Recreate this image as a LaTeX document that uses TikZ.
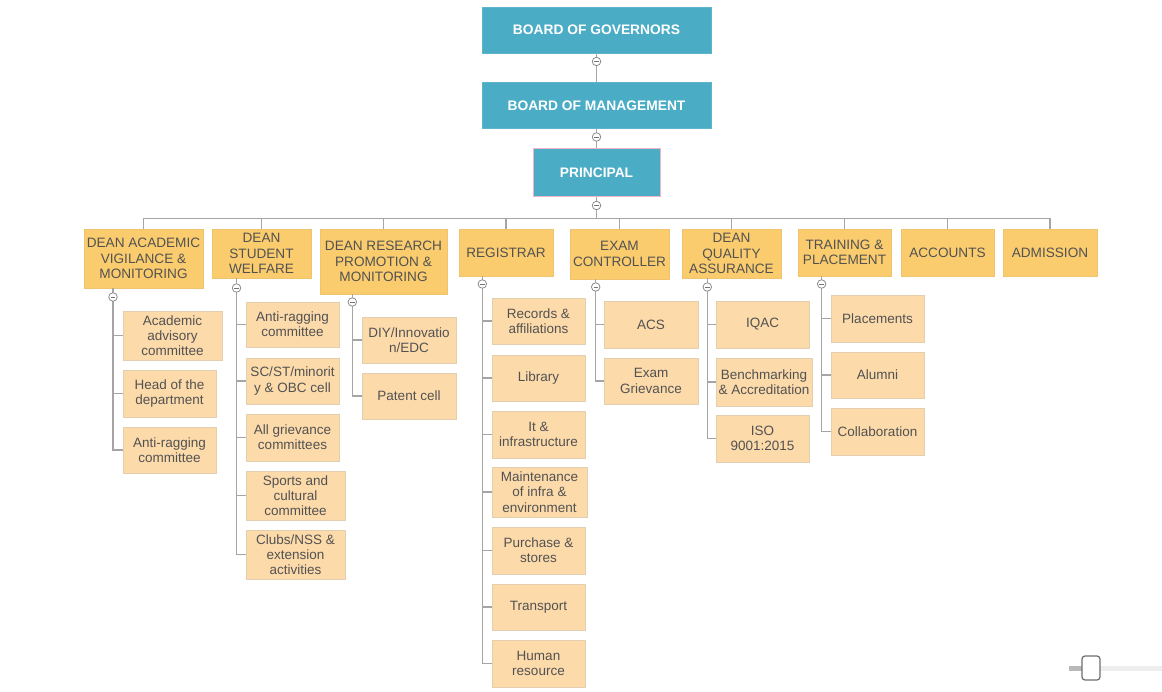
\documentclass[tikz,border=0pt]{standalone}
\usepackage{fontspec}
\setmainfont{Liberation Sans}
\usetikzlibrary{shadows}
\definecolor{topblue}{RGB}{75,172,198}
\definecolor{deanor}{RGB}{250,204,110}
\definecolor{childor}{RGB}{252,218,170}
\definecolor{childbd}{RGB}{228,206,176}
\definecolor{deanbd}{RGB}{240,196,110}
\definecolor{txt}{RGB}{82,82,82}
\definecolor{conn}{RGB}{165,165,165}
\definecolor{pinkbd}{RGB}{240,180,200}
\begin{document}
\begin{tikzpicture}[x=1pt,y=-1pt,
  topbox/.style={draw=topblue!90!white, fill=topblue, text=white, inner sep=2pt,
     font=\fontsize{13.8}{15.3}\selectfont\bfseries, align=center,
     drop shadow={shadow xshift=1pt, shadow yshift=-1pt, opacity=0.15}},
  deanbox/.style={draw=deanbd, fill=deanor, text=txt, inner sep=1pt,
     font=\fontsize{13.6}{15.3}\selectfont, align=center,
     drop shadow={shadow xshift=1pt, shadow yshift=-1pt, opacity=0.15}},
  childbox/.style={draw=childbd, fill=childor, text=txt, inner sep=1pt,
     font=\fontsize{13.5}{15.3}\selectfont, align=center,
     drop shadow={shadow xshift=0.8pt, shadow yshift=-0.8pt, opacity=0.12}},
  wire/.style={draw=conn, line width=1.3pt},
  knob/.style={circle, draw=conn!85!black, fill=white, line width=0.8pt,
     minimum size=8.5pt, inner sep=0pt,
     path picture={\draw[conn!70!black, line width=0.8pt]
       ([xshift=-2.2pt]path picture bounding box.center) --
       ([xshift=2.2pt]path picture bounding box.center);}},
  sz/.style 2 args={minimum width=#1, minimum height=#2}
]
\useasboundingbox[fill=white] (0,0) rectangle (1162,692);

% top chain
\node[topbox, sz={229}{46}] (gov) at (596.5,30) {BOARD OF GOVERNORS};
\node[topbox, sz={229}{46}] (mgmt) at (596.5,105.5) {BOARD OF MANAGEMENT};
\node[topbox, sz={127}{48}, draw=pinkbd, line width=0.8pt] (prin) at (596.5,172.5) {PRINCIPAL};

% deans
\node[deanbox, sz={119}{59}] (d1) at (143.5,258.5) {DEAN ACADEMIC\\VIGILANCE \&\\MONITORING};
\node[deanbox, sz={99}{49}] (d2) at (261.5,253.5) {DEAN\\STUDENT\\WELFARE};
\node[deanbox, sz={127}{65}] (d3) at (383.5,261.5) {DEAN RESEARCH\\PROMOTION \&\\MONITORING};
\node[deanbox, sz={94}{47}] (d4) at (506,252.5) {REGISTRAR};
\node[deanbox, sz={99}{50}] (d5) at (619.5,254) {EXAM\\CONTROLLER};
\node[deanbox, sz={99}{49}] (d6) at (731.5,253.5) {DEAN\\QUALITY\\ASSURANCE};
\node[deanbox, sz={93}{47}] (d7) at (844.5,252.5) {TRAINING \&\\PLACEMENT};
\node[deanbox, sz={93}{47}] (d8) at (947.5,252.5) {ACCOUNTS};
\node[deanbox, sz={94}{47}] (d9) at (1050,252.5) {ADMISSION};

% children of dean 1
\node[childbox, sz={99}{49}] (a1) at (172.5,335.5) {Academic\\advisory\\committee};
\node[childbox, sz={93}{47}] (a2) at (169.5,393.5) {Head of the\\department};
\node[childbox, sz={93}{46}] (a3) at (169.5,450) {Anti-ragging\\committee};
% children of dean 2
\node[childbox, sz={93}{45}] (b1) at (292.5,324.5) {Anti-ragging\\committee};
\node[childbox, sz={93}{46}] (b2) at (292.5,381) {SC/ST/minorit\\y \& OBC cell};
\node[childbox, sz={93}{47}] (b3) at (292.5,437.5) {All grievance\\committees};
\node[childbox, sz={99}{49}] (b4) at (295.5,495.5) {Sports and\\cultural\\committee};
\node[childbox, sz={99}{49}] (b5) at (295.5,554.5) {Clubs/NSS \&\\extension\\activities};
% children of dean 3
\node[childbox, sz={94}{46}] (c1) at (409,340) {DIY/Innovatio\\n/EDC};
\node[childbox, sz={94}{46}] (c2) at (409,396) {Patent cell};
% registrar
\node[childbox, sz={93}{46}] (r1) at (538.5,321) {Records \&\\affiliations};
\node[childbox, sz={93}{46}] (r2) at (538.5,378) {Library};
\node[childbox, sz={93}{47}] (r3) at (538.5,434.5) {It \&\\infrastructure};
\node[childbox, sz={95}{50}] (r4) at (539.5,492) {Maintenance\\of infra \&\\environment};
\node[childbox, sz={93}{47}] (r5) at (538.5,550.5) {Purchase \&\\stores};
\node[childbox, sz={93}{46}] (r6) at (538.5,607) {Transport};
\node[childbox, sz={93}{47}] (r7) at (538.5,663.5) {Human\\resource};
% exam controller
\node[childbox, sz={94}{47}] (e1) at (651,324.5) {ACS};
\node[childbox, sz={94}{46}] (e2) at (651,381) {Exam\\Grievance};
% quality assurance
\node[childbox, sz={93}{47}] (q1) at (762.5,324.5) {IQAC};
\node[childbox, sz={96}{48}] (q2) at (764,382) {Benchmarking\\\& Accreditation};
\node[childbox, sz={93}{47}] (q3) at (762.5,438.5) {ISO\\9001:2015};
% training & placement
\node[childbox, sz={93}{47}] (t1) at (877.5,318.5) {Placements};
\node[childbox, sz={93}{46}] (t2) at (877.5,375) {Alumni};
\node[childbox, sz={93}{47}] (t3) at (877.5,431.5) {Collaboration};

% knob coordinates
\coordinate (k0) at (596.5,61.5);
\coordinate (kA) at (596.5,137);
\coordinate (kB) at (596.5,205.5);
\coordinate (bus) at (596.5,218.5);
\coordinate (k1) at (113,297);
\coordinate (k2) at (236.5,288);
\coordinate (k3) at (352.3,302);
\coordinate (k4) at (482.3,284);
\coordinate (k5) at (595.7,287);
\coordinate (k6) at (707.3,287);
\coordinate (k7) at (821.6,284);

% connectors
\draw[wire] (gov.south) -- (mgmt.north);
\draw[wire] (mgmt.south) -- (prin.north);
\draw[wire] (prin.south) -- (bus);
\draw[wire] (d1.north) |- (bus) -| (d9.north);
\foreach \d in {d2,d3,d4,d5,d6,d7,d8}{
  \draw[wire] (\d.north) -- (\d.north |- bus);
}
% parent stem + knob + single vertical spine with branches
\draw[wire] (k1 |- d1.south) |- (a3.west) (k1 |- a1.west) -- (a1.west) (k1 |- a2.west) -- (a2.west);
\draw[wire] (k2 |- d2.south) |- (b5.west) (k2 |- b1.west) -- (b1.west) (k2 |- b2.west) -- (b2.west)
  (k2 |- b3.west) -- (b3.west) (k2 |- b4.west) -- (b4.west);
\draw[wire] (k3 |- d3.south) |- (c2.west) (k3 |- c1.west) -- (c1.west);
\draw[wire] (k4 |- d4.south) |- (r7.west) (k4 |- r1.west) -- (r1.west) (k4 |- r2.west) -- (r2.west)
  (k4 |- r3.west) -- (r3.west) (k4 |- r4.west) -- (r4.west) (k4 |- r5.west) -- (r5.west)
  (k4 |- r6.west) -- (r6.west);
\draw[wire] (k5 |- d5.south) |- (e2.west) (k5 |- e1.west) -- (e1.west);
\draw[wire] (k6 |- d6.south) |- (q3.west) (k6 |- q1.west) -- (q1.west) (k6 |- q2.west) -- (q2.west);
\draw[wire] (k7 |- d7.south) |- (t3.west) (k7 |- t1.west) -- (t1.west) (k7 |- t2.west) -- (t2.west);

% knobs
\foreach \k in {k0,kA,kB,k1,k2,k3,k4,k5,k6,k7}{
  \node[knob] (\k n) at (\k) {};
}

% slider
\coordinate (trackL) at (1069,668);
\coordinate (trackR) at (1162,668);
\draw[line width=5pt, draw={rgb,255:red,238;green,238;blue,238}] (1090,668) -- (trackR);
\draw[line width=5pt, draw={rgb,255:red,185;green,185;blue,185}] (trackL) -- (1090,668);
\node[draw={rgb,255:red,110;green,110;blue,110}, fill=white, line width=1.2pt,
      rounded corners=3pt, minimum width=18pt, minimum height=24pt, inner sep=0pt]
      (slider) at (1091,668) {};
\end{tikzpicture}
\end{document}
